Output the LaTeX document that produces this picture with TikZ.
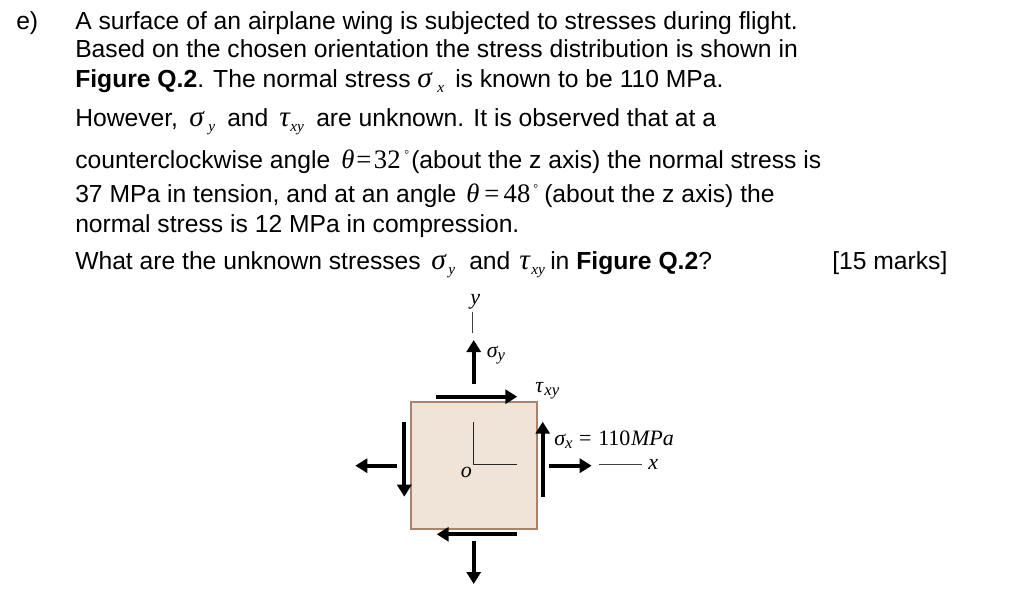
\documentclass[tikz,border=0pt]{standalone}
\usepackage{fontspec}
\usetikzlibrary{arrows.meta}
\setmainfont{Liberation Sans}
\newfontfamily\tms{Liberation Serif}
\definecolor{platefill}{HTML}{F0E4D9}
\definecolor{plateline}{HTML}{A98468}
\newcommand{\lsub}[1]{\raisebox{-2.8pt}{\fontsize{12.5pt}{13pt}\selectfont #1}}
\tikzset{
  txt/.style={anchor=base west,inner sep=0pt,yshift=-0.75pt,font=\fontsize{18.5pt}{20pt}\selectfont},
  sym/.style={anchor=base west,inner sep=0pt,yshift=-0.75pt,font=\tms\itshape\fontsize{20pt}{22pt}\selectfont},
  grk/.style={anchor=base west,inner sep=0pt,yshift=-0.75pt,font=\tms\itshape\fontsize{22pt}{24pt}\selectfont},
  num/.style={anchor=base west,inner sep=0pt,yshift=-0.75pt,font=\tms\fontsize{20pt}{22pt}\selectfont},
  deg/.style={anchor=base west,inner sep=0pt,yshift=-0.75pt,font=\tms\fontsize{9pt}{10pt}\selectfont},
  sub/.style={anchor=base west,inner sep=0pt,yshift=-0.75pt,font=\tms\itshape\fontsize{11.5pt}{12pt}\selectfont},
  lbl/.style={anchor=base west,inner sep=0pt,font=\tms\itshape\fontsize{16.5pt}{18pt}\selectfont},
  force/.style={line width=3pt,-{Triangle[length=9pt,width=10.5pt]}},
  axisline/.style={line width=0.7pt,draw=black!75},
}
\begin{document}
\begin{tikzpicture}[x=0.75pt,y=-0.75pt]
\useasboundingbox (0,0) rectangle (1024,602);
\fill[white] (0,0) rectangle (1024,602);
% question text
\node[txt] (e) at (16,29) {e)};
\node[txt] (l1) at (75,29) {A surface of an airplane wing is subjected to stresses during flight.};
\node[txt] (l2) at (75,57) {Based on the chosen orientation the stress distribution is shown in};
\node[txt] (l3a) at (75,87) {\textbf{Figure Q.2}. The normal stress};
\node[grk] (l3s) at (417,87) {σ};
\node[sub] (l3x) at (437,92) {x};
\node[txt] (l3b) at (455,87) {is known to be 110 MPa.};
\node[txt] (l4a) at (75,126) {However,};
\node[grk] (l4s) at (189,126) {σ};
\node[sub] (l4y) at (208,131) {y};
\node[txt] (l4b) at (227,126) {and};
\node[grk] (l4t) at (279,126) {τ};
\node[sub] (l4xy) at (290,131) {xy};
\node[txt] (l4c) at (316,126) {are unknown. It is observed that at a};
\node[txt] (l5a) at (75,168) {counterclockwise angle};
\node[sym] (l5th) at (341,168) {θ};
\node[num] (l5v) at (356,168) {=\kern2pt 32};
\node[deg] (l5d) at (404,158) {°};
\node[txt] (l5b) at (411,168) {(about the z axis) the normal stress is};
\node[txt] (l6a) at (75,202) {37 MPa in tension, and at an angle};
\node[sym] (l6th) at (466,202) {θ};
\node[num] (l6v) at (484,202) {=\,48};
\node[deg] (l6d) at (533,192) {°};
\node[txt] (l6b) at (544,202) {(about the z axis) the};
\node[txt] (l7) at (75,232) {normal stress is 12 MPa in compression.};
\node[txt] (l8a) at (75,269) {What are the unknown stresses};
\node[grk] (l8s) at (431,269) {σ};
\node[sub] (l8y) at (448,274) {y};
\node[txt] (l8b) at (469,269) {and};
\node[grk] (l8t) at (519,269) {τ};
\node[sub] (l8xy) at (531,274) {xy};
\node[txt] (l8c) at (550,269) {in \textbf{Figure Q.2}?};
\node[txt] (marks) at (832,269) {[15 marks]};
% plate
\node[draw=plateline,fill=platefill,line width=1.2pt,minimum width=94.5pt,minimum height=95pt,inner sep=0pt] (plate) at (473.7,465.6) {};
% named end points
\coordinate (ya) at (472.7,311.7); \coordinate (yb) at (472.7,333.3);
\coordinate (sya) at (473.7,383.7); \coordinate (syb) at (473.7,340);
\coordinate (ta) at (436,396.7); \coordinate (tb) at (517.3,396.7);
\coordinate (la) at (404.3,421.7); \coordinate (lb) at (404.3,496.7);
\coordinate (lna) at (397.3,465.7); \coordinate (lnb) at (355.3,465.7);
\coordinate (ra) at (542.7,496.7); \coordinate (rb) at (542.7,421.7);
\coordinate (rna) at (549,465.7); \coordinate (rnb) at (591.7,465.7);
\coordinate (xa) at (599.3,464.3); \coordinate (xb) at (641.7,464.3);
\coordinate (ba) at (517.3,534.3); \coordinate (bb) at (436.7,534.3);
\coordinate (bna) at (473.7,541); \coordinate (bnb) at (473.7,584);
\coordinate (oy) at (473.3,421.7); \coordinate (oo) at (473.3,464.3); \coordinate (ox) at (516.7,464.3);
% lines
\draw[axisline] (ya) -- (yb);
\draw[axisline] (xa) -- (xb);
\draw[line width=0.7pt,draw=black!85] (oy) -- (oo) -- (ox);
\draw[force] (sya) -- (syb);
\draw[force] (ta) -- (tb);
\draw[force] (la) -- (lb);
\draw[force] (lna) -- (lnb);
\draw[force] (ra) -- (rb);
\draw[force] (rna) -- (rnb);
\draw[force] (ba) -- (bb);
\draw[force] (bna) -- (bnb);
% labels
\node[lbl] (ylab) at (470,305) {y};
\node[lbl] (sylab) at (486.5,357) {σ\lsub{y}};
\node[lbl] (txylab) at (535,392) {τ\kern1pt\lsub{xy}};
\node[lbl] (sxlab) at (554,445) {σ\lsub{x}\kern5pt{\upshape =\kern5pt 110}\kern0.5ptMPa};
\node[lbl] (xlab) at (648,469) {x};
\node[lbl] (olab) at (460.5,477) {o};
\end{tikzpicture}
\end{document}
